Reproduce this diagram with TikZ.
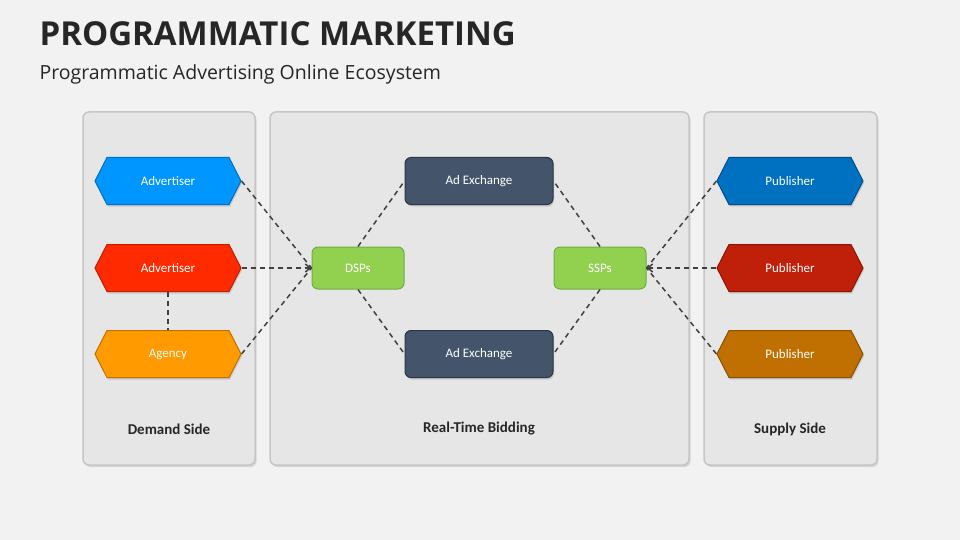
\documentclass[tikz,border=0pt]{standalone}
\usepackage{fontspec}
\setmainfont{Carlito}
\newfontfamily\titlefont{Open Sans}
\usetikzlibrary{shapes.symbols,arrows.meta,shadows}
\definecolor{bg}{HTML}{F2F2F2}
\definecolor{panel}{HTML}{E6E6E6}
\definecolor{panelb}{HTML}{C6C6C6}
\definecolor{ttl}{HTML}{262626}
\definecolor{cb}{HTML}{0096FF}\definecolor{cbd}{HTML}{0070C0}
\definecolor{cr}{HTML}{FF2A00}\definecolor{crd}{HTML}{C02000}
\definecolor{co}{HTML}{FF9A00}\definecolor{cod}{HTML}{C07000}
\definecolor{pb}{HTML}{0070C0}\definecolor{pbd}{HTML}{004C8C}
\definecolor{pr}{HTML}{C0200A}\definecolor{prd}{HTML}{8A1400}
\definecolor{po}{HTML}{C07000}\definecolor{pod}{HTML}{8A5000}
\definecolor{ax}{HTML}{44546A}\definecolor{axd}{HTML}{2B3645}
\definecolor{gr}{HTML}{92D050}\definecolor{grd}{HTML}{70AD47}
\definecolor{ln}{HTML}{404040}
\tikzset{
 panelbox/.style={draw=panelb,line width=1.5pt,fill=panel,rounded corners=6pt,drop shadow={shadow xshift=1.5pt,shadow yshift=-2pt,opacity=0.25}},
 hexbox/.style={shape=signal,signal to=east and west,signal pointer angle=126,minimum width=146pt,minimum height=47pt,inner sep=0pt,line width=1pt,text=white,font=\fontsize{13}{15}\selectfont,drop shadow={shadow xshift=1pt,shadow yshift=-2pt,opacity=0.3}},
 axbox/.style={draw=axd,fill=ax,rounded corners=6pt,minimum width=148pt,minimum height=47pt,line width=1pt,text=white,font=\fontsize{13}{15}\selectfont,drop shadow={shadow xshift=1pt,shadow yshift=-2pt,opacity=0.3}},
 grbox/.style={draw=grd,fill=gr,rounded corners=6pt,minimum width=92pt,minimum height=42pt,line width=1pt,text=white,font=\fontsize{13}{15}\selectfont},
 conn/.style={draw=ln,dashed,dash pattern=on 5pt off 4pt,line width=1.5pt},
 lbl/.style={text=ttl,font=\bfseries\fontsize{15}{17}\selectfont},
}
\begin{document}
\begin{tikzpicture}[x=1pt,y=-1pt]
\fill[bg] (0,0) rectangle (960,540);
\useasboundingbox (0,0) rectangle (960,540);
\node[anchor=west,text=ttl,font=\titlefont\bfseries\fontsize{33}{36}\selectfont] (title) at (36,34) {PROGRAMMATIC MARKETING};
\node[anchor=west,text=ttl,font=\titlefont\fontsize{19.5}{22}\selectfont] (sub) at (36,74) {Programmatic Advertising Online Ecosystem};
\path[panelbox] (83,112) rectangle (255,465);
\path[panelbox] (270,112) rectangle (689,465);
\path[panelbox] (704,112) rectangle (877,465);
\node[lbl] (ld) at (169,429) {Demand Side};
\node[lbl] (lr) at (479,429) {Real-Time Bidding};
\node[lbl] (ls) at (790,429) {Supply Side};
\node[hexbox,fill=cb,draw=cbd] (a1) at (168,181) {Advertiser};
\node[hexbox,fill=cr,draw=crd] (a2) at (168,268) {Advertiser};
\node[hexbox,fill=co,draw=cod] (ag) at (168,354) {Agency};
\node[hexbox,fill=pb,draw=pbd] (p1) at (790,181) {Publisher};
\node[hexbox,fill=pr,draw=prd] (p2) at (790,268) {Publisher};
\node[hexbox,fill=po,draw=pod] (p3) at (790,354) {Publisher};
\node[axbox] (x1) at (479,181) {Ad Exchange};
\node[axbox] (x2) at (479,354) {Ad Exchange};
\node[grbox] (d) at (358,268) {DSPs};
\node[grbox] (s) at (600,268) {SSPs};
\draw[conn] (a2.south) -- (ag.north);
\draw[conn] (a1.east) -- (d.west);
\draw[conn] (ag.east) -- (d.west);
\draw[conn,-{Straight Barb[length=5pt,width=8pt]}] (a2.east) -- (d.west);
\draw[conn] (p1.west) -- (s.east);
\draw[conn] (p3.west) -- (s.east);
\draw[conn,-{Straight Barb[length=5pt,width=8pt]}] (p2.west) -- (s.east);
\draw[conn] (d.north) -- (x1.west);
\draw[conn] (d.south) -- (x2.west);
\draw[conn] (s.north) -- (x1.east);
\draw[conn] (s.south) -- (x2.east);
\end{tikzpicture}
\end{document}
